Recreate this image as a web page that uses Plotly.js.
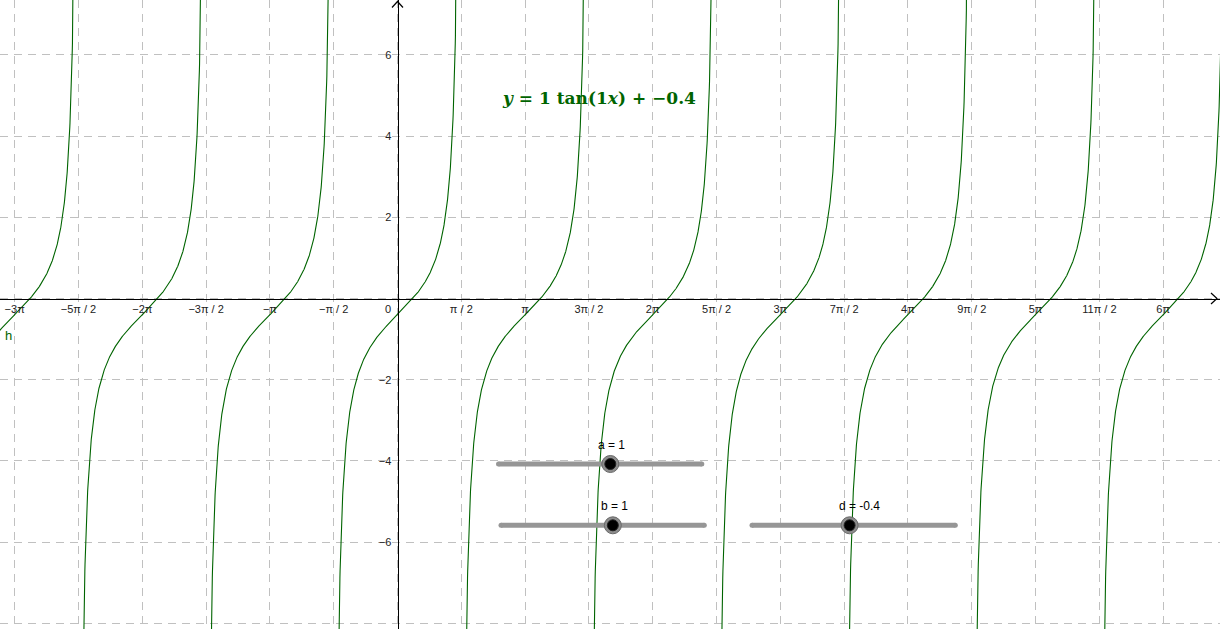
<!DOCTYPE html>
<html>
<head>
<meta charset="utf-8">
<script src="https://cdn.plot.ly/plotly-3.0.1.min.js"></script>
<style>html,body{margin:0;padding:0;background:#fff;}#chart{width:1220px;height:629px;}</style>
</head>
<body>
<div id="chart"></div>
<script>
// ---- data ----
var sliderNames = ['a', 'b', 'd'];
var sliderValues = [1, 1, -0.4];
var sliderMin = [-10, -10, -10];
var sliderMax = [10, 10, 10];

var xTickVals = [];
var xTickText = ['−3π','−5π / 2','−2π','−3π / 2','−π','−π / 2','','π / 2','π','3π / 2','2π','5π / 2','3π','7π / 2','4π','9π / 2','5π','11π / 2','6π'];
for (var i = -6; i <= 12; i++) xTickVals.push(i * Math.PI / 2);
var yTickVals = [-8, -6, -4, -2, 0, 2, 4, 6];
var yTickText = ['', '−6', '−4', '−2', '', '2', '4', '6'];

var funcLabel = 'h';

// ---- layout helpers (pixel geometry) ----
var W = 1220, H = 629;
var X0 = 397.5, Y0 = 298.5, S = 40.62;
var xRange = [-X0 / S, (W - X0) / S];
var yRange = [-(H - Y0) / S, Y0 / S];

var A = sliderValues[0], B = sliderValues[1], D = sliderValues[2];

// curve y = a tan(b x) + d, broken at asymptotes
var cx = [], cy = [];
var kMin = Math.floor((xRange[0] * B) / Math.PI - 1), kMax = Math.ceil((xRange[1] * B) / Math.PI + 1);
for (var k = kMin; k <= kMax; k++) {
  var lo = (-Math.PI / 2 + k * Math.PI) / B, hi = (Math.PI / 2 + k * Math.PI) / B;
  for (var x = lo + 0.001; x < hi - 0.001; x += 0.004) {
    var y = A * Math.tan(B * x) + D;
    if (Math.abs(y) > 40) continue;
    if (x < xRange[0] - 0.2 || x > xRange[1] + 0.2) continue;
    cx.push(x); cy.push(y);
  }
  cx.push(null); cy.push(null);
}

var green = 'rgb(0,100,0)';
var traces = [{
  x: cx, y: cy, type: 'scatter', mode: 'lines', connectgaps: false,
  line: {color: green, width: 1.1}, hoverinfo: 'skip', showlegend: false
}];

// sliders in pixel space
var sliderX0 = [498.5, 501, 752];
var sliderY = [464, 525.3, 525.3];
var sliderLen = 203.3;
var sliderAnn = [];
for (var s = 0; s < sliderNames.length; s++) {
  var x0 = sliderX0[s], x1 = x0 + sliderLen;
  var frac = (sliderValues[s] - sliderMin[s]) / (sliderMax[s] - sliderMin[s]);
  var px = x0 + frac * sliderLen;
  traces.push({
    x: [x0, x1], y: [sliderY[s], sliderY[s]], xaxis: 'x2', yaxis: 'y2',
    type: 'scatter', mode: 'lines+markers', line: {color: 'rgb(150,150,150)', width: 5},
    marker: {size: 5, color: 'rgb(150,150,150)'}, hoverinfo: 'skip', showlegend: false
  });
  traces.push({
    x: [px], y: [sliderY[s]], xaxis: 'x2', yaxis: 'y2', type: 'scatter', mode: 'markers',
    marker: {size: 17, color: 'rgb(140,140,140)', line: {color: 'rgb(105,105,105)', width: 1}},
    hoverinfo: 'skip', showlegend: false
  });
  traces.push({
    x: [px], y: [sliderY[s]], xaxis: 'x2', yaxis: 'y2', type: 'scatter', mode: 'markers',
    marker: {size: 11, color: '#000', line: {color: '#222', width: 1}},
    hoverinfo: 'skip', showlegend: false
  });
  var valTxt = String(sliderValues[s]);
  sliderAnn.push({
    x: px + 1.5 + (valTxt.length > 2 ? 8 : 0), y: sliderY[s] - 19, xref: 'x2', yref: 'y2',
    text: sliderNames[s] + ' = ' + valTxt, showarrow: false,
    font: {family: 'Liberation Sans, Arial, sans-serif', size: 12, color: '#000'},
    xanchor: 'center', yanchor: 'middle'
  });
}

// axis arrowheads
traces.push({x: [W - 9, W - 3, W - 9], y: [Y0 - 5.5, Y0, Y0 + 5.5], xaxis: 'x2', yaxis: 'y2',
  type: 'scatter', mode: 'lines', line: {color: '#000', width: 1.2}, hoverinfo: 'skip', showlegend: false});
traces.push({x: [X0 - 5.5, X0, X0 + 5.5], y: [7.5, 1.5, 7.5], xaxis: 'x2', yaxis: 'y2',
  type: 'scatter', mode: 'lines', line: {color: '#000', width: 1.2}, hoverinfo: 'skip', showlegend: false});

var fmt = function (v) { return v < 0 ? '−' + Math.abs(v) : String(v); };
var formula = '<b><i>y</i> = ' + A + ' tan(' + B + '<i>x</i>) + ' + fmt(D) + '</b>';

var tickFont = {family: 'Liberation Sans, Arial, sans-serif', size: 11, color: '#222'};
var gridCol = 'rgb(192,192,192)';

var layout = {
  width: W, height: H,
  margin: {l: 0, r: 0, t: 0, b: 0, pad: 0},
  paper_bgcolor: '#fff', plot_bgcolor: '#fff',
  showlegend: false,
  xaxis: {
    range: xRange, anchor: 'free', position: (H - Y0) / H,
    tickmode: 'array', tickvals: xTickVals, ticktext: xTickText,
    showgrid: true, gridcolor: gridCol, gridwidth: 1, griddash: '8px,6px',
    zeroline: false, showline: true, linecolor: '#000', linewidth: 1.5,
    ticks: '', tickfont: tickFont, fixedrange: true
  },
  yaxis: {
    range: yRange, anchor: 'free', position: X0 / W,
    tickmode: 'array', tickvals: yTickVals, ticktext: yTickText,
    showgrid: true, gridcolor: gridCol, gridwidth: 1, griddash: '8px,6px',
    zeroline: false, showline: true, linecolor: '#000', linewidth: 1.5,
    ticks: '', ticklabelstandoff: 4, tickfont: tickFont, fixedrange: true
  },
  xaxis2: {range: [0, W], overlaying: 'x', anchor: 'y2', visible: false, fixedrange: true},
  yaxis2: {range: [H, 0], overlaying: 'y', anchor: 'x2', visible: false, fixedrange: true},
  annotations: [
    {x: 500, y: 98, xref: 'x2', yref: 'y2', text: formula, showarrow: false,
      xanchor: 'left', yanchor: 'middle',
      font: {family: 'DejaVu Serif, serif', size: 17, color: green}},
    {x: 388, y: 309, xref: 'x2', yref: 'y2', text: '0', showarrow: false,
      xanchor: 'center', yanchor: 'middle', font: tickFont},
    {x: 8.5, y: 335, xref: 'x2', yref: 'y2', text: funcLabel, showarrow: false,
      xanchor: 'center', yanchor: 'middle',
      font: {family: 'Liberation Sans, Arial, sans-serif', size: 13, color: green}}
  ].concat(sliderAnn)
};

Plotly.newPlot('chart', traces, layout, {staticPlot: true, displayModeBar: false});
</script>
</body>
</html>
